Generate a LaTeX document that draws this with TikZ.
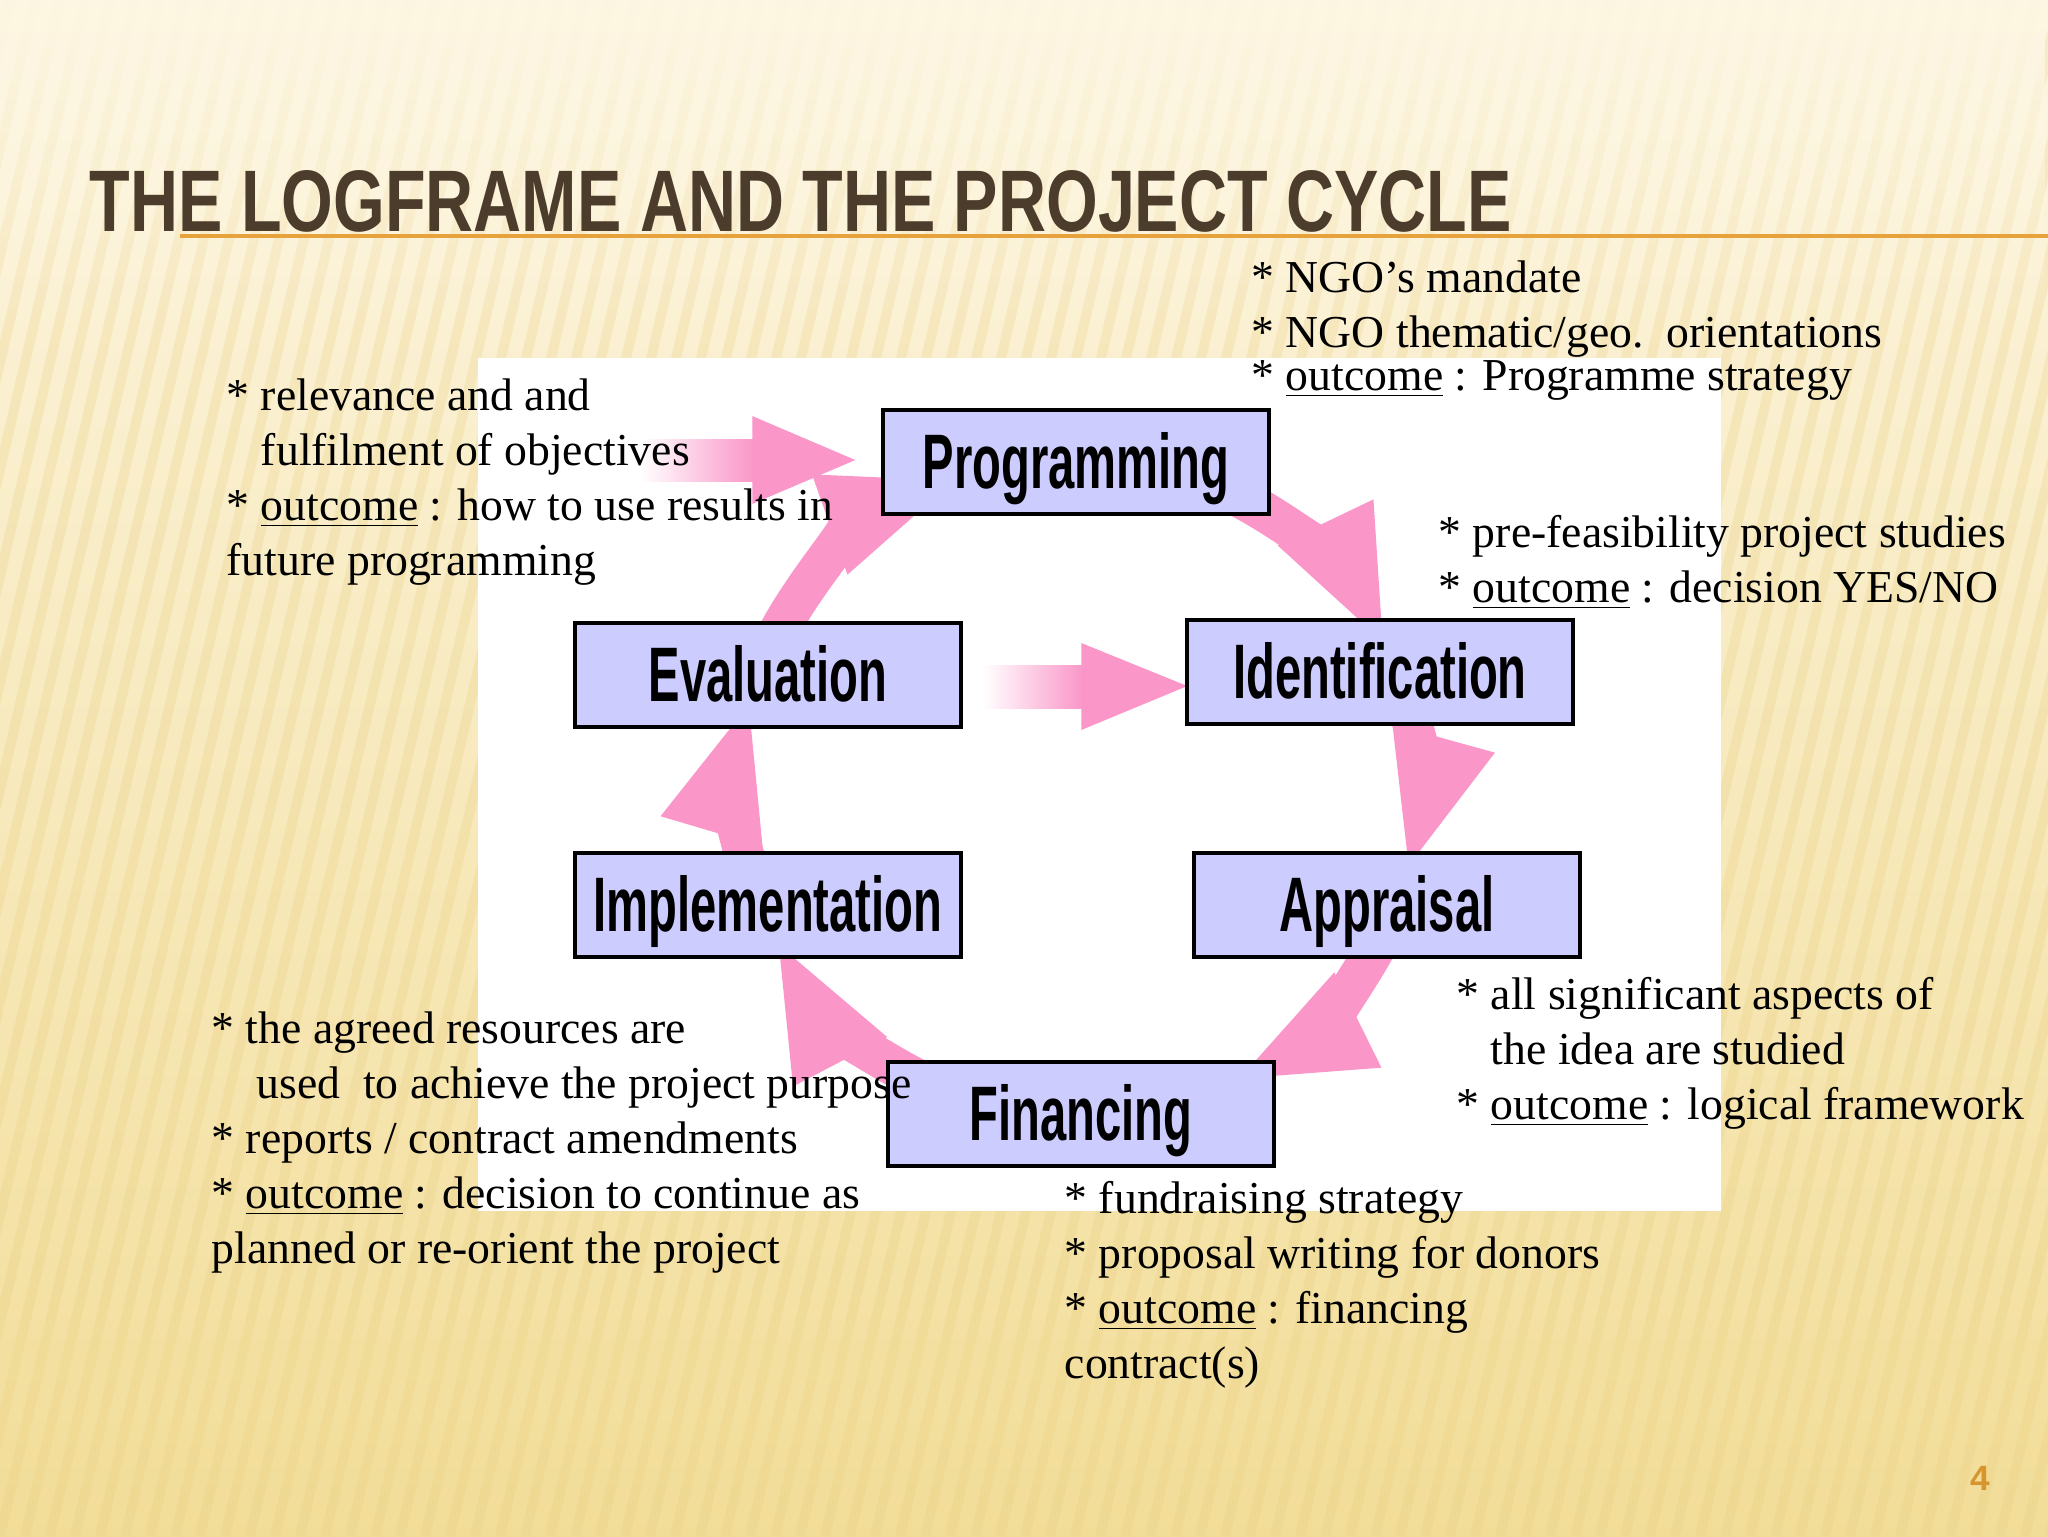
\documentclass[tikz,border=0pt]{standalone}
\usepackage{graphicx}
\usepackage{fontspec}
\setmainfont{Liberation Serif}
\newfontfamily\headfont{Liberation Sans}
\usetikzlibrary{arrows.meta,calc,fadings}
\pgfdeclarelayer{back}
\pgfsetlayers{back,main}
\definecolor{arrowpink}{RGB}{250,150,200}
\definecolor{stagefill}{RGB}{204,204,255}
\definecolor{titlebrown}{RGB}{76,60,43}
\definecolor{rulegold}{RGB}{232,162,60}
\definecolor{pagegold}{RGB}{214,150,45}
\definecolor{bgtop}{RGB}{253,246,226}
\definecolor{bgmid}{RGB}{250,236,190}
\definecolor{bgbot}{RGB}{242,221,152}
\definecolor{stripecol}{RGB}{232,205,125}
\newcommand\sqz[1]{\scalebox{0.61}[1]{#1}}
\tikzset{
  stage/.style={draw=black, line width=0.35mm, fill=stagefill,
    minimum width=38.6mm, minimum height=10.4mm, inner sep=0pt,
    text height=15.8pt, text depth=1pt,
    font=\headfont\bfseries\fontsize{22}{24}\selectfont},
  note/.style={anchor=base west, align=left, inner sep=0pt,
    font=\fontsize{13}{15.65}\selectfont},
  cycarrow/.style={draw=arrowpink, line width=4mm,
    -{Triangle[length=14mm,width=9.4mm]}},
  stripe/.style={draw=stripecol, line width=1mm, opacity=0.25}
}
\begin{document}
\begin{tikzpicture}[x=0.1mm,y=-0.1mm]
\useasboundingbox (0,0) rectangle (2048,1536);

\node[anchor=base west, inner sep=0pt, text=titlebrown, font=\headfont\bfseries] (title) at (89,231)
  {\resizebox{142.2mm}{6.1mm}{THE LOGFRAME AND THE PROJECT CYCLE}};
\node[text=pagegold, font=\headfont\bfseries\fontsize{10}{12}\selectfont] (pgno) at (1980,1478) {4};

\node[stage] (prog) at (1076,462) {\sqz{Programming}};
\node[stage] (eval) at (768,675) {\sqz{Evaluation}};
\node[stage] (ident) at (1380,672) {\sqz{Identification}};
\node[stage] (impl) at (768,905) {\sqz{Implementation}};
\node[stage] (appr) at (1387,905) {\sqz{Appraisal}};
\node[stage] (fin) at (1081,1114) {\sqz{Financing}};

% multi-line notes sit on the baseline of their last line
\node[note] (relev) at (226,575) {* relevance and and\\\hphantom{* }fulfilment of objectives\\* \underline{outcome} : how to use results in\\future programming};
\node[note] (mandate) at (1251,347) {* NGO’s mandate\\* NGO thematic/geo.\ \ orientations};
\node[note] (progout) at (1251,390) {* \underline{outcome} : Programme strategy};
\node[note] (prefeas) at (1438,602) {* pre-feasibility project studies\\* \underline{outcome} : decision YES/NO};
\node[note] (aspects) at (1456,1119) {* all significant aspects of\\\hphantom{* }the idea are studied\\* \underline{outcome} : logical framework};
\node[note] (agreed) at (211,1263) {* the agreed resources are\\\hspace*{12.8pt}used\ \ to achieve the project purpose\\* reports / contract amendments\\* \underline{outcome} : decision to continue as\\planned or re-orient the project};
\node[note] (fund) at (1064,1378) {* fundraising strategy\\* proposal writing for donors\\* \underline{outcome} : financing\\contract(s)};

\begin{pgfonlayer}{back}
\shade[top color=bgtop, middle color=bgmid, bottom color=bgbot] (0,0) rectangle (2048,1536);
\foreach \k in {-16,...,82}
  \draw[stripe] (\k*25,1536) -- ++(360,-1536);
\fill[bgtop, path fading=south] (0,0) rectangle (2048,330);
\draw[rulegold, line width=0.9pt] (180,236) -- (2048,236);
\fill[white] (478,358) rectangle (1721,1211);

\coordinate (hub) at (1078,788);
\foreach \s/\e in {-62/-25,-20/15,25/63,115/153,160/196,205/250}
  \draw[cycarrow] (hub) ++(\s:340 and 330) arc[start angle=\s, end angle=\e, x radius=340, y radius=330];

\coordinate (ptip) at ($(prog.west)+(-26,-2)$);
\shade[left color=white, right color=arrowpink] ($(ptip)+(-215,-21)$) rectangle ($(ptip)+(-101,21)$);
\fill[arrowpink] (ptip) -- ++(-103,-44) -- ++(0,88) -- cycle;

\coordinate (itip) at ($(ident.west)+(2,14)$);
\shade[left color=white, right color=arrowpink] ($(itip)+(-204,-21)$) rectangle ($(itip)+(-104,22)$);
\fill[arrowpink] (itip) -- ++(-106,-43) -- ++(0,87) -- cycle;
\end{pgfonlayer}

\end{tikzpicture}
\end{document}
